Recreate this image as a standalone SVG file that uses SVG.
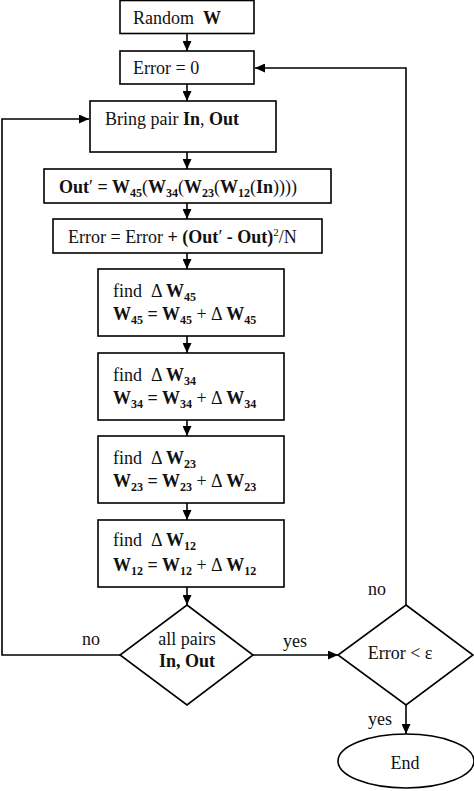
<svg xmlns="http://www.w3.org/2000/svg" width="474" height="791" viewBox="0 0 474 791">
<style>
.box{fill:#fff;stroke:#000;stroke-width:1.6}
.ln{fill:none;stroke:#000;stroke-width:1.6}
text{font-family:"Liberation Serif","Times New Roman",serif;font-size:18px;fill:#111}
.b{font-weight:bold}
.s{font-size:12px;font-weight:bold}
.lbl{font-size:18px}
</style>
<defs>
<marker id="ah" markerUnits="userSpaceOnUse" markerWidth="10" markerHeight="9" refX="10" refY="4.5" orient="auto">
<path d="M0,0 L10,4.5 L0,9 z" fill="#000"/>
</marker>
</defs>
<rect width="474" height="791" fill="#fff"/>

<g id="connectors">
<line class="ln" x1="187" y1="34" x2="187" y2="51" marker-end="url(#ah)"/>
<line class="ln" x1="187" y1="84" x2="187" y2="101" marker-end="url(#ah)"/>
<line class="ln" x1="187" y1="152" x2="187" y2="169" marker-end="url(#ah)"/>
<line class="ln" x1="187" y1="203" x2="187" y2="219" marker-end="url(#ah)"/>
<line class="ln" x1="187" y1="253" x2="187" y2="269" marker-end="url(#ah)"/>
<line class="ln" x1="187" y1="336" x2="187" y2="353" marker-end="url(#ah)"/>
<line class="ln" x1="187" y1="420" x2="187" y2="436" marker-end="url(#ah)"/>
<line class="ln" x1="187" y1="503" x2="187" y2="520" marker-end="url(#ah)"/>
<line class="ln" x1="187" y1="587" x2="187" y2="605" marker-end="url(#ah)"/>
<polyline class="ln" points="120,655 2,655 2,119 89,119" marker-end="url(#ah)"/>
<line class="ln" x1="253" y1="655" x2="338" y2="655" marker-end="url(#ah)"/>
<polyline class="ln" points="406,605 406,68 255,68" marker-end="url(#ah)"/>
<line class="ln" x1="406" y1="705" x2="406" y2="734" marker-end="url(#ah)"/>
<text class="lbl" x="82" y="645">no</text>
<text class="lbl" x="283" y="647">yes</text>
<text class="lbl" x="368" y="595">no</text>
<text class="lbl" x="368" y="725">yes</text>
</g>

<g id="random-w">
<rect class="box" x="120" y="0.5" width="134" height="33"/>
<text x="133" y="24" xml:space="preserve">Random  <tspan class="b">W</tspan></text>
</g>

<g id="error-zero">
<rect class="box" x="120" y="51" width="134" height="33"/>
<text x="133" y="74">Error = 0</text>
</g>

<g id="bring-pair">
<rect class="box" x="90" y="101" width="186" height="51"/>
<text x="105" y="125">Bring pair <tspan class="b">In</tspan>, <tspan class="b">Out</tspan></text>
</g>

<g id="compute-out">
<rect class="box" x="44" y="169" width="287" height="34"/>
<text x="59" y="193"><tspan class="b">Out</tspan>′ <tspan class="b">= W</tspan><tspan class="s" dy="4">45</tspan><tspan dy="-4">(</tspan><tspan class="b">W</tspan><tspan class="s" dy="4">34</tspan><tspan dy="-4">(</tspan><tspan class="b">W</tspan><tspan class="s" dy="4">23</tspan><tspan dy="-4">(</tspan><tspan class="b">W</tspan><tspan class="s" dy="4">12</tspan><tspan dy="-4">(</tspan><tspan class="b">In</tspan>))))</text>
</g>

<g id="update-error">
<rect class="box" x="53" y="219" width="269" height="34"/>
<text x="68" y="243">Error = Error <tspan class="b">+ (Out</tspan>′ <tspan class="b">- Out)</tspan><tspan font-size="11" dy="-7">2</tspan><tspan dy="7">/N</tspan></text>
</g>

<g id="update-w45">
<rect class="box" x="98" y="269" width="186" height="67"/>
<text x="113" y="297" xml:space="preserve">find  Δ <tspan class="b">W</tspan><tspan class="s" dy="4">45</tspan></text>
<text x="113" y="320"><tspan class="b">W</tspan><tspan class="s" dy="4">45</tspan><tspan class="b" dy="-4"> = W</tspan><tspan class="s" dy="4">45</tspan><tspan dy="-4"> + Δ </tspan><tspan class="b">W</tspan><tspan class="s" dy="4">45</tspan></text>
</g>

<g id="update-w34">
<rect class="box" x="98" y="353" width="186" height="67"/>
<text x="113" y="381" xml:space="preserve">find  Δ <tspan class="b">W</tspan><tspan class="s" dy="4">34</tspan></text>
<text x="113" y="404"><tspan class="b">W</tspan><tspan class="s" dy="4">34</tspan><tspan class="b" dy="-4"> = W</tspan><tspan class="s" dy="4">34</tspan><tspan dy="-4"> + Δ </tspan><tspan class="b">W</tspan><tspan class="s" dy="4">34</tspan></text>
</g>

<g id="update-w23">
<rect class="box" x="98" y="436" width="186" height="67"/>
<text x="113" y="464" xml:space="preserve">find  Δ <tspan class="b">W</tspan><tspan class="s" dy="4">23</tspan></text>
<text x="113" y="487"><tspan class="b">W</tspan><tspan class="s" dy="4">23</tspan><tspan class="b" dy="-4"> = W</tspan><tspan class="s" dy="4">23</tspan><tspan dy="-4"> + Δ </tspan><tspan class="b">W</tspan><tspan class="s" dy="4">23</tspan></text>
</g>

<g id="update-w12">
<rect class="box" x="98" y="520" width="186" height="67"/>
<text x="113" y="546" xml:space="preserve">find  Δ <tspan class="b">W</tspan><tspan class="s" dy="4">12</tspan></text>
<text x="113" y="571"><tspan class="b">W</tspan><tspan class="s" dy="4">12</tspan><tspan class="b" dy="-4"> = W</tspan><tspan class="s" dy="4">12</tspan><tspan dy="-4"> + Δ </tspan><tspan class="b">W</tspan><tspan class="s" dy="4">12</tspan></text>
</g>

<g id="all-pairs">
<polygon class="box" points="187,605 253,655 187,705 120,655"/>
<text x="187" y="645" text-anchor="middle">all pairs</text>
<text x="187" y="667" text-anchor="middle" class="b">In, Out</text>
</g>

<g id="error-check">
<polygon class="box" points="406,605 473,655 406,705 338,655"/>
<text x="400" y="659" text-anchor="middle">Error &lt; ε</text>
</g>

<g id="end">
<ellipse class="box" cx="406" cy="761" rx="68" ry="27"/>
<text x="405" y="769" text-anchor="middle">End</text>
</g>
</svg>
